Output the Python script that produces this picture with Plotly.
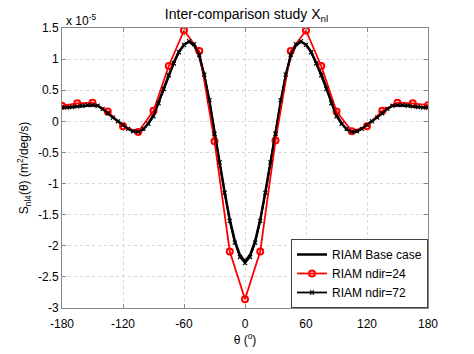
import plotly.graph_objects as go

# Values are in units of 1e-5 m^2/deg/s
theta24 = list(range(-180, 181, 15))
ndir24 = [0.25, 0.29, 0.30, 0.16, -0.08, -0.17, 0.17, 0.89, 1.46, 1.13, -0.32, -2.09, -2.86,
          -2.09, -0.31, 1.13, 1.46, 0.89, 0.16, -0.16, -0.08, 0.17, 0.30, 0.29, 0.26]

theta72 = list(range(-180, 181, 5))
half72 = [0.22, 0.22, 0.23, 0.24, 0.25, 0.26, 0.26, 0.25, 0.20, 0.13, 0.06, 0.00, -0.06,
          -0.12, -0.16, -0.17, -0.12, -0.04, 0.08, 0.29, 0.52, 0.74, 0.93, 1.11, 1.23,
          1.29, 1.24, 1.07, 0.75, 0.34, -0.20, -0.66, -1.15, -1.60, -1.95, -2.18, -2.28]
ndir72 = half72 + half72[-2::-1]

half_base = [0.22, 0.22, 0.23, 0.24, 0.25, 0.26, 0.26, 0.25, 0.20, 0.13, 0.06, 0.00, -0.06,
             -0.12, -0.16, -0.17, -0.13, -0.03, 0.10, 0.31, 0.54, 0.76, 0.95, 1.12, 1.23,
             1.28, 1.22, 1.05, 0.73, 0.32, -0.20, -0.66, -1.14, -1.58, -1.92, -2.15, -2.25]
base = half_base + half_base[-2::-1]

xticks = [-180, -120, -60, 0, 60, 120, 180]
yticks = [1.5, 1, 0.5, 0, -0.5, -1, -1.5, -2, -2.5, -3]
ytick_labels = ["1.5", "1", "0.5", "0", "-0.5", "-1", "-1.5", "-2", "-2.5", "-3"]

FONT = "Liberation Sans, Arial, sans-serif"

fig = go.Figure()
fig.add_trace(go.Scatter(x=theta72, y=base, mode="lines", name="RIAM Base case",
                         line=dict(color="black", width=2.5)))
fig.add_trace(go.Scatter(x=theta24, y=ndir24, mode="lines+markers", name="RIAM ndir=24",
                         line=dict(color="#ff0000", width=1.8),
                         marker=dict(symbol="circle-open", size=6, color="#ff0000",
                                     line=dict(width=2, color="#ff0000"))))
fig.add_trace(go.Scatter(x=theta72, y=ndir72, mode="lines+markers", name="RIAM ndir=72",
                         line=dict(color="black", width=1.8),
                         marker=dict(symbol="x-thin", size=4, color="black",
                                     line=dict(width=1.2, color="black"))))

fig.update_layout(
    width=474, height=354,
    margin=dict(l=62, r=46, t=28, b=40),
    paper_bgcolor="white", plot_bgcolor="white",
    font=dict(family=FONT, size=12, color="black"),
    title=dict(text="Inter-comparison study X<sub>nl</sub>", x=0.52, xanchor="center",
               y=0.975, yanchor="top", font=dict(size=14, family=FONT)),
    showlegend=True,
    legend=dict(x=1, y=0, xanchor="right", yanchor="bottom", xref="paper", yref="paper",
                bgcolor="white", bordercolor="#444", borderwidth=1,
                font=dict(size=12, family=FONT), tracegroupgap=0,
                itemwidth=30),
)
fig.update_xaxes(range=[-180, 180], tickvals=xticks, ticktext=[str(v) for v in xticks],
                 showgrid=True, gridcolor="#d6d6d6", griddash="dot", gridwidth=1,
                 showline=True, linecolor="#888", linewidth=1, mirror="ticks",
                 ticks="inside", ticklen=4, tickcolor="#888", zeroline=False,
                 ticklabelstandoff=5,
                 title=dict(text="θ (<sup>o</sup>)", standoff=2, font=dict(size=12)))
fig.update_yaxes(range=[-3, 1.5], tickvals=yticks, ticktext=ytick_labels,
                 showgrid=True, gridcolor="#d6d6d6", griddash="dot", gridwidth=1,
                 showline=True, linecolor="#888", linewidth=1, mirror="ticks",
                 ticks="inside", ticklen=4, tickcolor="#888", zeroline=False,
                 title=dict(text="S<sub>nl4</sub>(θ) (m<sup>2</sup>/deg/s)", standoff=6,
                            font=dict(size=12)))
fig.add_annotation(text="x 10<sup>-5</sup>", xref="paper", yref="paper", x=0, y=1,
                   xanchor="left", yanchor="bottom", showarrow=False,
                   font=dict(size=12, family=FONT), xshift=2, yshift=-2)

fig.write_html("out.html")
